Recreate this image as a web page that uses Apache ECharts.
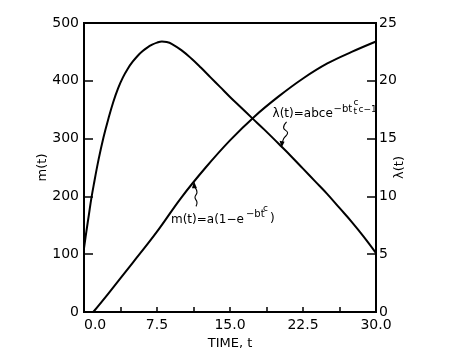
<!DOCTYPE html>
<html><head><meta charset="utf-8">
<script src="https://cdn.jsdelivr.net/npm/echarts@6/dist/echarts.min.js"></script>
<style>html,body{margin:0;padding:0;background:#fff}#c{width:474px;height:355px}</style>
</head><body><div id="c"></div>
<script>
// Data
const tM    = [0.95, 2.5, 5, 7.5, 10, 12.5, 15, 17.5, 20, 22.5, 25, 27.5, 30];
const mVals = [0, 32, 85, 139, 198, 250, 297, 338, 373, 404, 430, 450, 468];
const tL      = [0, 0.25, 0.5, 0.75, 1, 1.5, 2, 2.5, 3, 3.5, 4, 4.5, 5, 5.5, 6, 6.5, 7, 7.5, 8, 8.5, 9, 10, 11, 12, 13, 14, 15, 16, 17.3, 18.5, 20, 21.25, 22.5, 23.75, 25, 26.25, 27.5, 28.75, 30];
const lamVals = [5.5, 7.0, 8.4, 9.8, 11.0, 13.2, 15.1, 16.7, 18.15, 19.35, 20.3, 21.05, 21.65, 22.15, 22.55, 22.87, 23.12, 23.3, 23.4, 23.35, 23.2, 22.65, 21.95, 21.15, 20.3, 19.45, 18.6, 17.8, 16.75, 15.8, 14.55, 13.5, 12.4, 11.3, 10.2, 9.0, 7.8, 6.5, 5.1];
const xTickLabels = ['0.0', '7.5', '15.0', '22.5', '30.0'];

const FONT = 'DejaVu Sans';
const chart = echarts.init(document.getElementById('c'));
const axisLine = {show: true, lineStyle: {color: '#000', width: 2}};
const lab = {color: '#000', fontFamily: FONT, fontSize: 14};
const nameStyle = {color: '#000', fontFamily: FONT, fontSize: 13};

chart.setOption({
  animation: false,
  backgroundColor: '#fff',
  grid: {left: 84, right: 98, top: 23, bottom: 36, show: true, borderColor: '#000', borderWidth: 2},
  xAxis: {
    type: 'value', min: 0, max: 30, interval: 3.75,
    axisLine: axisLine,
    axisTick: {inside: true, length: 5, lineStyle: {color: '#000', width: 1.5}},
    splitLine: {show: false},
    axisLabel: Object.assign({}, lab, {margin: 6, alignMinLabel: 'left',
      formatter: function (v) {
        const k = v / 7.5;
        return Math.abs(k - Math.round(k)) < 1e-6 ? xTickLabels[Math.round(k)] : '';
      }}),
    name: 'TIME, t', nameLocation: 'middle', nameGap: 25, nameMoveOverlap: false,
    nameTextStyle: nameStyle
  },
  yAxis: [{
    type: 'value', min: 0, max: 500, interval: 100, position: 'left',
    axisLine: axisLine,
    axisTick: {inside: true, length: 9, lineStyle: {color: '#000', width: 1.5}},
    splitLine: {show: false},
    axisLabel: Object.assign({}, lab, {margin: 5}),
    name: 'm(t)', nameLocation: 'middle', nameRotate: 90, nameGap: 35, nameMoveOverlap: false,
    nameTextStyle: nameStyle
  }, {
    type: 'value', min: 0, max: 25, interval: 5, position: 'right',
    axisLine: axisLine,
    axisTick: {inside: true, length: 9, lineStyle: {color: '#000', width: 1.5}},
    splitLine: {show: false},
    axisLabel: Object.assign({}, lab, {margin: 3}),
    name: 'λ(t)', nameLocation: 'middle', nameRotate: 90, nameGap: 17, nameMoveOverlap: false,
    nameTextStyle: nameStyle
  }],
  series: [{
    type: 'line', yAxisIndex: 0, showSymbol: false, smooth: 0.4,
    lineStyle: {color: '#000', width: 2},
    data: tM.map((t, i) => [t, mVals[i]])
  }, {
    type: 'line', yAxisIndex: 1, showSymbol: false, smooth: 0.4,
    lineStyle: {color: '#000', width: 2},
    data: tL.map((t, i) => [t, lamVals[i]])
  }]
});

// Annotations anchored to the curves
const pm = chart.convertToPixel({xAxisIndex: 0, yAxisIndex: 0}, [11.3, 226]);
const pl = chart.convertToPixel({xAxisIndex: 0, yAxisIndex: 1}, [20.3, 14.2]);
const txt = (x, y, s, size) => ({type: 'text', x: x, y: y,
  style: {text: s, fill: '#000', font: size + 'px "' + FONT + '"', textVerticalAlign: 'middle'}});
const ln = {stroke: '#000', lineWidth: 1.1, fill: null};
const mx = pm[0], my = pm[1], lx = pl[0], ly = pl[1];
chart.setOption({graphic: [
  // m(t) label
  txt(mx - 23, my + 39, 'm(t)=a(1\u2212e', 12),
  txt(mx + 52, my + 33, '\u2212bt', 10),
  txt(mx + 69, my + 27, 'c', 9),
  txt(mx + 76, my + 38, ')', 12),
  {type: 'polyline', shape: {points: [[mx + 1, my + 6], [mx + 3, my + 11], [mx + 1, my + 16], [mx + 3, my + 21], [mx + 2, my + 25]], smooth: 0.5}, style: ln},
  {type: 'polygon', shape: {points: [[mx, my], [mx - 2, my + 7], [mx + 3, my + 7]]}, style: {fill: '#000'}},
  // lambda(t) label
  txt(lx - 9, ly - 34, '\u03bb(t)=abce', 12),
  txt(lx + 52, ly - 38, '\u2212bt', 10),
  txt(lx + 72, ly - 45, 'c', 9),
  txt(lx + 72, ly - 36, 't', 9),
  txt(lx + 77, ly - 38, 'c\u22121', 9),
  {type: 'polyline', shape: {points: [[lx + 5, ly - 26], [lx + 2, ly - 20], [lx + 6, ly - 15], [lx + 2, ly - 9], [lx + 1, ly - 5]], smooth: 0.5}, style: ln},
  {type: 'polygon', shape: {points: [[lx, ly], [lx - 2, ly - 7], [lx + 3, ly - 6]]}, style: {fill: '#000'}}
]});
</script></body></html>
